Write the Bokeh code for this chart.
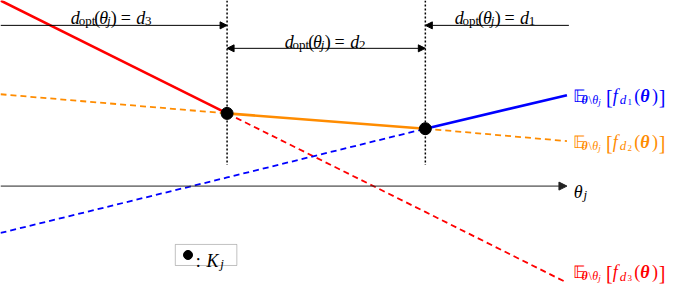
from bokeh.plotting import figure
from bokeh.models import Range1d, Arrow, NormalHead, BoxAnnotation, ColumnDataSource
from bokeh.core.properties import value, field
from bokeh.embed import file_html
from bokeh.resources import INLINE

# ---- data (schematic units: x = theta_j, y = expected cost, drawn downward) ----
theta_pts = [0, 232, 435, 580]
red_vals = [0, 118, 221, 295]       # E[f_d3]
orange_vals = [98, 118, 134, 147]   # E[f_d2]
blue_vals = [243, 185, 134, 99]     # E[f_d1]
K_theta = [232, 435]
K_vals = [118, 134]
axis_y = 194
axis_end = 580

RED = "#ff0000"
ORANGE = "#ff8c00"
BLUE = "#0000ff"

p = figure(width=669, height=287, output_backend="svg", toolbar_location=None,
           x_range=Range1d(0, 685), y_range=Range1d(300, 0),
           x_axis_type=None, y_axis_type=None, min_border=0)
p.grid.visible = False
p.outline_line_color = None
p.background_fill_color = "white"

# dotted vertical separators at the switching points
for k in K_theta:
    p.line([k, k], [0, 172], line_color="black", line_width=1.5, line_dash="2 2")

# theta axis
p.add_layout(Arrow(end=NormalHead(size=8, fill_color="#222", line_color="#222"),
                   x_start=0, y_start=axis_y, x_end=axis_end, y_end=axis_y,
                   line_color="#222", line_width=1))

# dashed (non-optimal) parts
dash = "6 4"
p.line(theta_pts[1:], red_vals[1:], line_color=RED, line_width=1.8, line_dash=dash)
p.line(theta_pts[:2], orange_vals[:2], line_color=ORANGE, line_width=1.8, line_dash=dash)
p.line(theta_pts[2:], orange_vals[2:], line_color=ORANGE, line_width=1.8, line_dash=dash)
p.line(theta_pts[:3], blue_vals[:3], line_color=BLUE, line_width=1.8, line_dash=dash)
# solid (optimal) parts
p.line(theta_pts[:2], red_vals[:2], line_color=RED, line_width=2.6)
p.line(theta_pts[1:3], orange_vals[1:3], line_color=ORANGE, line_width=2.6)
p.line(theta_pts[2:], blue_vals[2:], line_color=BLUE, line_width=2.6)
# switching points K_j
p.scatter(K_theta, K_vals, size=12, color="black")

# region arrows
head = lambda: NormalHead(size=7, fill_color="black", line_color="black")
p.add_layout(Arrow(end=head(), x_start=0, y_start=26, x_end=K_theta[0], y_end=26,
                   line_color="black", line_width=1))
p.add_layout(Arrow(end=head(), x_start=582, y_start=26, x_end=K_theta[1], y_end=26,
                   line_color="black", line_width=1))
p.add_layout(Arrow(start=head(), end=head(), x_start=K_theta[0], y_start=50,
                   x_end=K_theta[1], y_end=50, line_color="black", line_width=1))

# legend box (drawn beneath the legend marker and text)
p.add_layout(BoxAnnotation(left=179, right=242, top=255, bottom=277, level="underlay",
                           fill_color="white", fill_alpha=1, line_color="#333", line_width=1))

# ---- composed math texts ----
rows = dict(x=[], y=[], text=[], fs=[], st=[], col=[])

def put(L, B, pieces, color):
    for dx, dy, t, s, st in pieces:
        rows["x"].append(L + dx)
        rows["y"].append(B + dy)
        rows["text"].append(t)
        rows["fs"].append(f"{s}px")
        rows["st"].append(st)
        rows["col"].append(color)

def dlabel(idx):
    return [(0, 0, "d", 18, "italic"), (8, 3, "opt", 13, "normal"),
            (24, 0, "(", 18, "normal"), (29, 0, "θ", 18, "italic"),
            (37, 3, "j", 13, "italic"), (41, 0, ")", 18, "normal"),
            (51, 0, "=", 18, "normal"), (67, 0, "d", 18, "italic"),
            (76, 3, idx, 13, "normal")]

put(72, 18, dlabel("3"), "black")
put(291, 43, dlabel("2"), "black")
put(465, 18, dlabel("1"), "black")

def elabel(idx):
    return [(0, 0, "𝔼", 17, "normal"), (9, 4, "θ", 12, "bold italic"),
            (16, 4, "\\", 12, "normal"), (20, 4, "θ", 12, "italic"),
            (26, 6, "j", 9, "italic"), (34, 1, "[", 20, "normal"),
            (41, 0, "f", 18, "italic"), (48, 4, "d", 13, "italic"),
            (56, 6, idx, 9, "normal"), (63, 0, "(", 18, "normal"),
            (69, 0, "θ", 18, "bold italic"), (81, 0, ")", 18, "normal"),
            (88, 1, "]", 20, "normal")]

put(586, 100, elabel("1"), BLUE)
put(586, 148, elabel("2"), ORANGE)
put(586, 284, elabel("3"), RED)

put(587, 200, [(0, 0, "θ", 18, "italic"), (10, 3, "j", 13, "italic")], "black")
put(200, 272, [(0, 0, ":", 18, "normal"), (11, 0, "K", 18, "italic"),
               (25, 3, "j", 13, "italic")], "black")

src = ColumnDataSource(rows)
p.text(x="x", y="y", text="text", source=src, text_font=value("Liberation Serif"),
       text_font_size=field("fs"), text_font_style=field("st"), text_color=field("col"),
       text_align="left", text_baseline="alphabetic")

p.scatter([192], [266], size=9, color="black")

open("out.html", "w").write(file_html(p, INLINE))
